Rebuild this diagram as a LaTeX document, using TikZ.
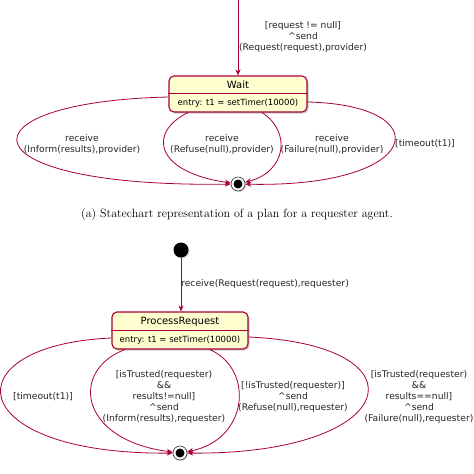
\documentclass[tikz,border=0pt]{standalone}
\usepackage{fontspec}
\setmainfont{DejaVu Sans}
\newfontfamily\capfont{Latin Modern Roman}
\usetikzlibrary{arrows.meta,shadows}
\definecolor{stborder}{HTML}{A80036}
\definecolor{stfill}{HTML}{FEFECE}
\tikzset{
  stbox/.style={draw=stborder, fill=stfill, line width=1.1pt, rounded corners=5pt,
    inner sep=0pt, drop shadow={shadow xshift=1.5pt, shadow yshift=-1.5pt, opacity=0.35, fill=black!60}},
  sttitle/.style={font=\fontsize{10}{12}\selectfont, inner sep=0pt},
  stentry/.style={font=\fontsize{8.5}{10}\selectfont, inner sep=0pt},
  sep/.style={draw=stborder, line width=1pt},
  arr/.style={draw=stborder, line width=0.8pt, -{Stealth[length=6pt,width=5pt,inset=2pt]}},
  lbl/.style={font=\fontsize{9.2}{11}\selectfont, align=center, inner sep=0pt, text=black!85},
  finalring/.style={circle, draw=black!80, fill=white, line width=0.6pt, minimum size=14pt, inner sep=0pt,
    drop shadow={shadow xshift=1pt, shadow yshift=-1pt, opacity=0.3}},
  finaldot/.style={circle, fill=black, minimum size=9pt, inner sep=0pt},
  initdot/.style={circle, fill=black, minimum size=15pt, inner sep=0pt,
    drop shadow={shadow xshift=1pt, shadow yshift=-1pt, opacity=0.3}},
}
\begin{document}
\begin{tikzpicture}[x=1pt,y=-1pt]
\useasboundingbox[fill=white] (0,0) rectangle (474,474);

% ---------- (a) ----------
\coordinate (top) at (238,0);
\node[stbox, minimum width=138pt, minimum height=36pt] (wait) at (238,94) {};
\node[sttitle] (waitt) at (238,85) {Wait};
\node[stentry] (waite) at (238,103) {entry: t1 = setTimer(10000)};
\draw[sep] (wait.west |- 0,93) -- (wait.east |- 0,93);
\node[finalring] (f1) at (238,184) {};
\node[finaldot] (f1d) at (f1) {};

\draw[arr] (top) -- (wait);
\node[lbl] (l0) at (303,37) {[request != null]\\\textasciicircum send\\(Request(request),provider)};

\draw[arr] (wait.west |- 0,97) .. controls (-45,102) and (-40,188) .. (f1);
\draw[arr] (wait.south -| 188,0) .. controls (148,132) and (154,172) .. (f1);
\draw[arr] (wait.south -| 262,0) .. controls (292,132) and (286,172) .. (f1);
\draw[arr] (wait.east |- 0,102) .. controls (440,105) and (424,188) .. (f1);

\node[lbl] (l1) at (82,144.5) {receive\\(Inform(results),provider)};
\node[lbl] (l2) at (222,144.5) {receive\\(Refuse(null),provider)};
\node[lbl] (l3) at (332,144.5) {receive\\(Failure(null),provider)};
\node[lbl] (l4) at (425,144) {[timeout(t1)]};

\node[font=\capfont\fontsize{12}{14}\selectfont, inner sep=0pt] (capa) at (237,215)
  {(a) Statechart representation of a plan for a requester agent.};

% ---------- (b) ----------
\node[initdot] (i2) at (181,250) {};
\node[stbox, minimum width=136pt, minimum height=37pt] (pr) at (180,330.5) {};
\node[sttitle] (prt) at (180,322) {ProcessRequest};
\node[stentry] (pre) at (180,340) {entry: t1 = setTimer(10000)};
\draw[sep] (pr.west |- 0,330) -- (pr.east |- 0,330);
\node[finalring] (f2) at (180,453) {};
\node[finaldot] (f2d) at (f2) {};

\draw[arr] (i2) -- (i2 |- pr.north);
\node[lbl, anchor=west] (m0) at (181,284) {receive(Request(request),requester)};

\draw[arr] (pr.west |- 0,338) .. controls (-50,345) and (-39,455) .. (f2);
\draw[arr] (pr.south -| 125,0) .. controls (70,370) and (78,440) .. (f2);
\draw[arr] (pr.south -| 210,0) .. controls (255,370) and (248,440) .. (f2);
\draw[arr] (pr.east |- 0,337) .. controls (430,345) and (401,455) .. (f2);

\node[lbl] (m1) at (43,397) {[timeout(t1)]};
\node[lbl] (m2) at (164,397) {[isTrusted(requester)\\\&\&\\results!=null]\\\textasciicircum send\\(Inform(results),requester)};
\node[lbl] (m3) at (293,397) {[!isTrusted(requester)]\\\textasciicircum send\\(Refuse(null),requester)};
\node[lbl] (m4) at (419,397) {[isTrusted(requester)\\\&\&\\results==null]\\\textasciicircum send\\(Failure(null),requester)};
\end{tikzpicture}
\end{document}
